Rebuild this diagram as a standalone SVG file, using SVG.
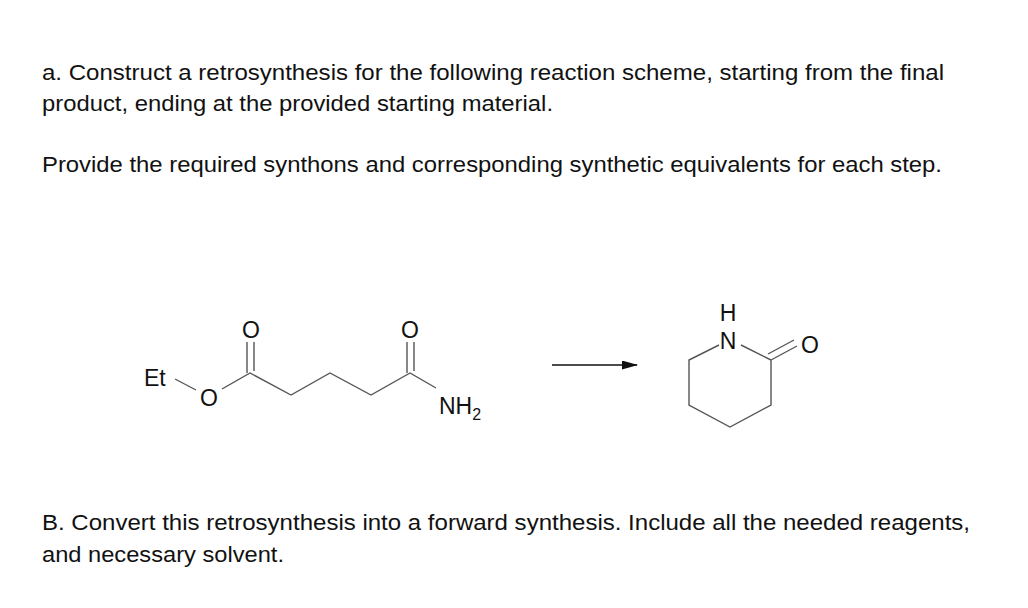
<svg xmlns="http://www.w3.org/2000/svg" width="1028" height="608" viewBox="0 0 1028 608">
<style>
.t{font-family:"Liberation Sans",Arial,sans-serif;font-size:22px;fill:#111}
.a{font-family:"Liberation Sans",Arial,sans-serif;font-size:23px;fill:#111}
.b{stroke:#555;stroke-width:1.4;fill:none}
</style>
<defs><marker id="ah" markerWidth="16" markerHeight="9" refX="15" refY="4.5" orient="auto" markerUnits="userSpaceOnUse"><path d="M0,0 L16,4.5 L0,9 Z" fill="#111"/></marker></defs>
<rect width="1028" height="608" fill="#fff"/>
<g id="text">
<text class="t" x="42" y="80" textLength="902" lengthAdjust="spacingAndGlyphs">a. Construct a retrosynthesis for the following reaction scheme, starting from the final</text>
<text class="t" x="42" y="111" textLength="511" lengthAdjust="spacingAndGlyphs">product, ending at the provided starting material.</text>
<text class="t" x="42" y="172" textLength="900" lengthAdjust="spacingAndGlyphs">Provide the required synthons and corresponding synthetic equivalents for each step.</text>
<text class="t" x="42" y="530" textLength="928" lengthAdjust="spacingAndGlyphs">B. Convert this retrosynthesis into a forward synthesis. Include all the needed reagents,</text>
<text class="t" x="42" y="562" textLength="242" lengthAdjust="spacingAndGlyphs">and necessary solvent.</text>
</g>
<g id="reactant">
<text class="a" x="144" y="386">Et</text>
<text class="a" x="209" y="406" text-anchor="middle">O</text>
<text class="a" x="251" y="338" text-anchor="middle">O</text>
<text class="a" x="410" y="338" text-anchor="middle">O</text>
<text class="a" x="439" y="414">NH<tspan font-size="16" dy="6">2</tspan></text>
<path class="b" d="M175,379 L196,390 M222,389 L250,373 L291,395 L330,373 L371,395 L410,373 L436,388 M247,373 L247,342 M254,371 L254,342 M407,373 L407,342 M414,371 L414,342"/>
</g>
<g id="connectors">
<line x1="552" y1="365" x2="637" y2="365" stroke="#111" stroke-width="1.6" marker-end="url(#ah)"/>
</g>
<g id="product">
<text class="a" x="728" y="321" text-anchor="middle">H</text>
<text class="a" x="728" y="349" text-anchor="middle">N</text>
<text class="a" x="810" y="353" text-anchor="middle">O</text>
<path class="b" d="M719,345 L689,360 L689,405 L730,427 L771,405 L771,360 L741,345 M771,360 L797,346 M768,354 L794,340"/>
</g>
</svg>
